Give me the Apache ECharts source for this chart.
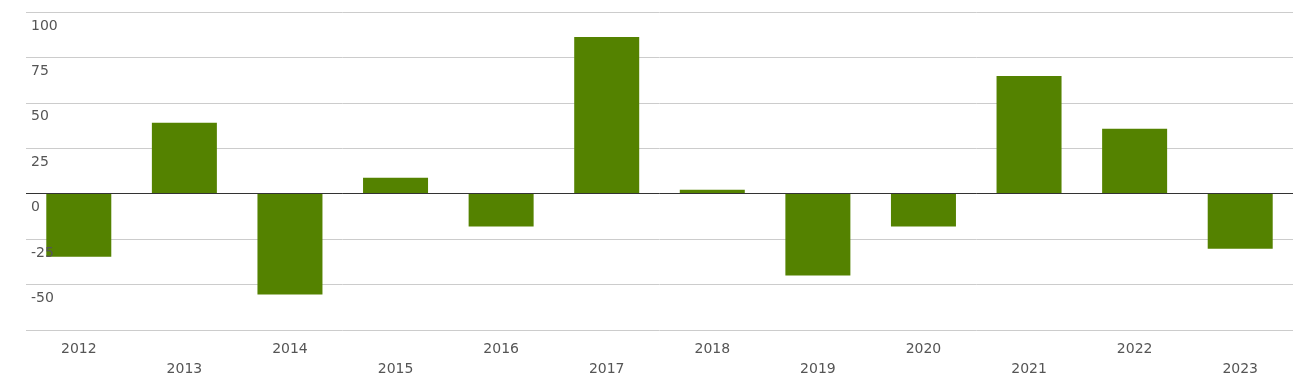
<!DOCTYPE html>
<html><head><meta charset="utf-8">
<script src="https://cdn.jsdelivr.net/npm/echarts@6/dist/echarts.min.js"></script>
<style>html,body{margin:0;padding:0;background:#fff}#c{width:1293px;height:384px}</style>
</head><body><div id="c"></div>
<script>
const categories = ['2012','2013','2014','2015','2016','2017','2018','2019','2020','2021','2022','2023'];
const values = [-34.7, 39, -55.5, 8.8, -18, 86.3, 2.2, -45, -18, 64.8, 35.7, -30.3];
const yTicks = { min: -75, max: 100, interval: 25 };

const labelStyle = {
  inside: true,
  margin: 5,
  color: '#555',
  fontFamily: 'DejaVu Sans',
  fontSize: 14,
  verticalAlign: 'top',
  padding: [7, 0, 0, 0],
  showMinLabel: false
};

const chart = echarts.init(document.getElementById('c'));
chart.setOption({
  animation: false,
  grid: { left: 26, right: 0, top: 12, bottom: 54, containLabel: false },
  xAxis: {
    type: 'category',
    data: categories,
    axisLine: { show: false },
    axisTick: { show: false },
    axisLabel: {
      interval: 0,
      margin: 9,
      color: '#555',
      fontFamily: 'DejaVu Sans',
      fontSize: 14,
      lineHeight: 20,
      formatter: (v, i) => (i % 2 === 1 ? '\n' + v : v)
    }
  },
  yAxis: [{
    type: 'value',
    min: yTicks.min, max: yTicks.max, interval: yTicks.interval,
    z: 0,
    axisLine: { show: false },
    axisTick: { show: false },
    splitLine: { lineStyle: { color: '#ccc', width: 1 } },
    axisLabel: { show: false }
  }, {
    type: 'value',
    position: 'left',
    min: yTicks.min, max: yTicks.max, interval: yTicks.interval,
    zlevel: 1,
    z: 10,
    axisLine: { show: false },
    axisTick: { show: false },
    splitLine: { show: false },
    axisLabel: labelStyle
  }],
  series: [{
    type: 'bar',
    yAxisIndex: 0,
    data: values,
    barWidth: 65,
    itemStyle: { color: '#548200' },
    markLine: {
      silent: true,
      symbol: 'none',
      label: { show: false },
      lineStyle: { color: '#333', type: 'solid', width: 1 },
      data: [{ yAxis: 0 }]
    }
  }]
});
</script></body></html>
